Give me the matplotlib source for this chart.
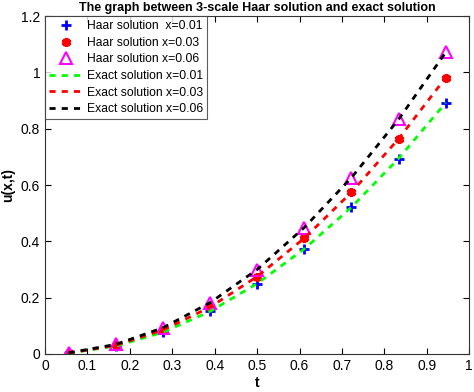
"""Haar solution vs exact solution"""
import matplotlib
matplotlib.use("Agg")
import matplotlib.pyplot as plt

plt.rcParams['font.family'] = ['Liberation Sans', 'DejaVu Sans']

t = [0.0556, 0.1667, 0.2778, 0.3889, 0.5, 0.6111, 0.7222, 0.8333, 0.9444]
haar_001 = [0.003, 0.028, 0.077, 0.151, 0.250, 0.373, 0.521, 0.694, 0.892]
haar_003 = [0.004, 0.031, 0.085, 0.166, 0.275, 0.411, 0.574, 0.764, 0.981]
haar_006 = [0.004, 0.034, 0.093, 0.182, 0.300, 0.449, 0.626, 0.833, 1.071]
exact_001 = [0.003, 0.028, 0.077, 0.151, 0.250, 0.373, 0.521, 0.694, 0.892]
exact_003 = [0.003, 0.031, 0.085, 0.166, 0.275, 0.411, 0.574, 0.764, 0.981]
exact_006 = [0.004, 0.034, 0.093, 0.182, 0.300, 0.449, 0.626, 0.833, 1.071]

fig = plt.figure(figsize=(4.74, 3.92), dpi=100)
ax = fig.add_axes([0.095, 0.097, 0.895, 0.862])

ax.plot(t, haar_001, '+', color='#0000ff', ms=7, mew=2,
        label='Haar solution  x=0.01')
ax.plot(t, haar_003, linestyle='none', marker=(6, 2, 0), color='#ff0000',
        ms=6.5, mew=2.5, label='Haar solution x=0.03')
ax.plot(t, haar_006, '^', color='#ff00ff', mfc='none', ms=8, mew=1.5,
        label='Haar solution x=0.06')
dash = (0, (2.2, 2.2))
ax.plot(t, exact_001, linestyle=dash, color='#00ff00', lw=2,
        label='Exact solution x=0.01')
ax.plot(t, exact_003, linestyle=dash, color='#ff0000', lw=2,
        label='Exact solution x=0.03')
ax.plot(t, exact_006, linestyle=dash, color='black', lw=2,
        label='Exact solution x=0.06')

ax.set_xlim(0, 1)
ax.set_ylim(0, 1.2)
ax.set_xticks([i / 10 for i in range(11)])
ax.set_xticklabels(['0', '0.1', '0.2', '0.3', '0.4', '0.5', '0.6', '0.7',
                    '0.8', '0.9', '1'])
ax.set_yticks([0, 0.2, 0.4, 0.6, 0.8, 1, 1.2])
ax.set_yticklabels(['0', '0.2', '0.4', '0.6', '0.8', '1', '1.2'])
ax.tick_params(direction='in', top=True, right=True, labelsize=10, length=4)
for s in ax.spines.values():
    s.set_linewidth(0.8)
    s.set_color('#333333')

ax.set_xlabel('t', fontweight='bold', fontsize=10, labelpad=2)
ax.set_ylabel('u(x,t)', fontweight='bold', fontsize=10, labelpad=4)
ax.set_title('The graph between 3-scale Haar solution and exact solution',
             fontweight='bold', fontsize=9, pad=4)

leg = ax.legend(loc='upper left', fontsize=8.7, frameon=True, fancybox=False,
                borderaxespad=0, handlelength=2.8, handletextpad=0.3,
                labelspacing=0.38, borderpad=0.35, markerfirst=True)
leg.get_frame().set_edgecolor('#333333')
leg.get_frame().set_linewidth(0.8)

plt.savefig('out.png', dpi=100)
